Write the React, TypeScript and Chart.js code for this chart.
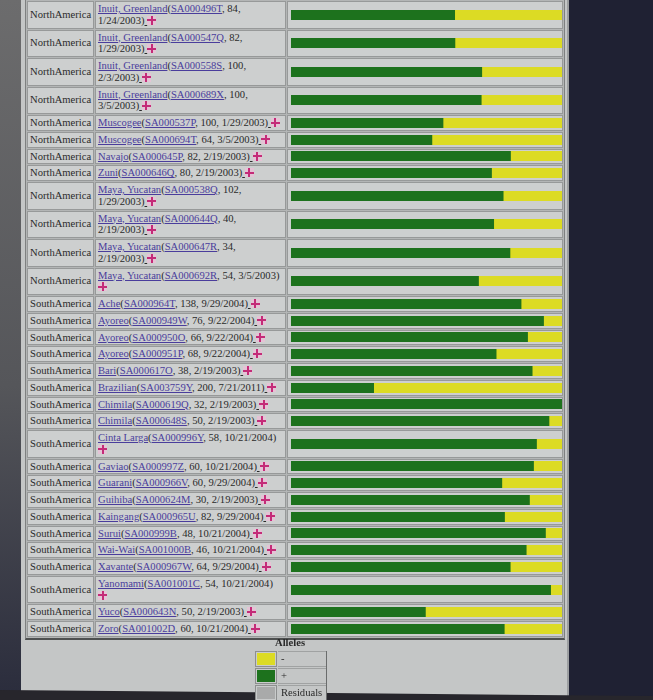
import React, { useEffect, useRef } from 'react';
import { Chart, registerables } from 'chart.js';

Chart.register(...registerables);

// ---------- data ----------
const REGIONS = [
  'NorthAmerica', 'NorthAmerica', 'NorthAmerica', 'NorthAmerica',
  'NorthAmerica', 'NorthAmerica', 'NorthAmerica', 'NorthAmerica',
  'NorthAmerica', 'NorthAmerica', 'NorthAmerica', 'NorthAmerica',
  'SouthAmerica', 'SouthAmerica', 'SouthAmerica', 'SouthAmerica',
  'SouthAmerica', 'SouthAmerica', 'SouthAmerica', 'SouthAmerica',
  'SouthAmerica', 'SouthAmerica', 'SouthAmerica', 'SouthAmerica',
  'SouthAmerica', 'SouthAmerica', 'SouthAmerica', 'SouthAmerica',
  'SouthAmerica', 'SouthAmerica', 'SouthAmerica',
];

const POPULATIONS = [
  'Inuit, Greenland', 'Inuit, Greenland', 'Inuit, Greenland', 'Inuit, Greenland',
  'Muscogee', 'Muscogee', 'Navajo', 'Zuni',
  'Maya, Yucatan', 'Maya, Yucatan', 'Maya, Yucatan', 'Maya, Yucatan',
  'Ache', 'Ayoreo', 'Ayoreo', 'Ayoreo', 'Bari', 'Brazilian', 'Chimila', 'Chimila',
  'Cinta Larga', 'Gaviao', 'Guarani', 'Guihiba', 'Kaingang', 'Surui', 'Wai-Wai',
  'Xavante', 'Yanomami', 'Yuco', 'Zoro',
];

const SAMPLE_IDS = [
  'SA000496T', 'SA000547Q', 'SA000558S', 'SA000689X',
  'SA000537P', 'SA000694T', 'SA000645P', 'SA000646Q',
  'SA000538Q', 'SA000644Q', 'SA000647R', 'SA000692R',
  'SA000964T', 'SA000949W', 'SA000950O', 'SA000951P', 'SA000617O', 'SA003759Y',
  'SA000619Q', 'SA000648S', 'SA000996Y', 'SA000997Z', 'SA000966V', 'SA000624M',
  'SA000965U', 'SA000999B', 'SA001000B', 'SA000967W', 'SA001001C', 'SA000643N',
  'SA001002D',
];

const SAMPLE_SIZES = [
  84, 82, 100, 100, 100, 64, 82, 80, 102, 40, 34, 54,
  138, 76, 66, 68, 38, 200, 32, 50, 58, 60, 60, 30, 82, 48, 46, 64, 54, 50, 60,
];

const DATES = [
  '1/24/2003', '1/29/2003', '2/3/2003', '3/5/2003',
  '1/29/2003', '3/5/2003', '2/19/2003', '2/19/2003',
  '1/29/2003', '2/19/2003', '2/19/2003', '3/5/2003',
  '9/29/2004', '9/22/2004', '9/22/2004', '9/22/2004', '2/19/2003', '7/21/2011',
  '2/19/2003', '2/19/2003', '10/21/2004', '10/21/2004', '9/29/2004', '2/19/2003',
  '9/29/2004', '10/21/2004', '10/21/2004', '9/29/2004', '10/21/2004', '2/19/2003',
  '10/21/2004',
];

// allele frequencies (%) per sample
const PLUS_PCT = [
  60.4, 60.5, 70.4, 70.2, 56.1, 52.0, 81.0, 74.0, 78.3, 74.8, 80.8, 69.2,
  84.9, 93.2, 87.3, 75.7, 89.0, 30.5, 100.0, 95.2, 90.6, 89.5, 77.8, 88.0,
  78.8, 93.9, 86.8, 80.9, 95.8, 49.6, 78.7,
];
const MINUS_PCT = [
  39.6, 39.5, 29.6, 29.8, 43.9, 48.0, 19.0, 26.0, 21.7, 25.2, 19.2, 30.8,
  15.1, 6.8, 12.7, 24.3, 11.0, 69.5, 0.0, 4.8, 9.4, 10.5, 22.2, 12.0,
  21.2, 6.1, 13.2, 19.1, 4.2, 50.4, 21.3,
];
const RESIDUAL_PCT = [
  0, 0, 0, 0, 0, 0, 0, 0, 0, 0, 0, 0, 0, 0, 0, 0,
  0, 0, 0, 0, 0, 0, 0, 0, 0, 0, 0, 0, 0, 0, 0,
];

const LEGEND_TITLE = 'Alleles';
const LEGEND_LABELS = ['-', '+', 'Residuals'];

// ---------- layout / style (not data) ----------
const GREEN = '#1d721d';
const YELLOW = '#dcdb24';
const GREY = '#a9aaaa';
const LEGEND_COLORS = [YELLOW, GREEN, GREY];
// where the sample text wraps in the reference: after the size, before the icon, or not at all
const WRAP = [
  'n', 'n', 'n', 'n', '', '', '', '', 'n', 'n', 'n', 'icon',
  '', '', '', '', '', '', '', '', 'icon', '', '', '', '', '', '', '', 'icon', '', '',
];

const FONT = '"Liberation Serif", "Times New Roman", serif';
const CELL_BG = '#cdcfcf';
const CELL_BORDER = '#979999';
const LINK = '#4a3d9c';
const TEXT = '#2a2a2a';

function BarChart({ index }: { index: number }) {
  const ref = useRef<HTMLCanvasElement>(null);
  useEffect(() => {
    const chart = new Chart(ref.current as HTMLCanvasElement, {
      type: 'bar',
      data: {
        labels: [POPULATIONS[index]],
        datasets: [
          { label: LEGEND_LABELS[1], data: [PLUS_PCT[index]], backgroundColor: GREEN },
          { label: LEGEND_LABELS[0], data: [MINUS_PCT[index]], backgroundColor: YELLOW },
          { label: LEGEND_LABELS[2], data: [RESIDUAL_PCT[index]], backgroundColor: GREY },
        ],
      },
      options: {
        indexAxis: 'y',
        responsive: false,
        animation: false,
        devicePixelRatio: 1,
        datasets: { bar: { barPercentage: 1, categoryPercentage: 1, borderWidth: 0 } },
        layout: { padding: 0 },
        scales: {
          x: { stacked: true, min: 0, max: 100, display: false },
          y: { stacked: true, display: false },
        },
        plugins: { legend: { display: false }, tooltip: { enabled: false } },
      },
    });
    return () => chart.destroy();
  }, [index]);
  return (
    <canvas
      ref={ref}
      width={271}
      height={10}
      style={{ display: 'block', width: 271, height: 10 }}
    />
  );
}

function PlusIcon() {
  return (
    <span
      style={{
        display: 'inline-block',
        position: 'relative',
        width: 9,
        height: 9,
        background: '#e4c3d5',
        verticalAlign: '-1px',
      }}
    >
      <span style={{ position: 'absolute', left: 0, top: 3.5, width: 9, height: 2, background: '#c42b78' }} />
      <span style={{ position: 'absolute', left: 3.5, top: 0, width: 2, height: 9, background: '#c42b78' }} />
    </span>
  );
}

const linkStyle: React.CSSProperties = { color: LINK, textDecoration: 'underline' };

function SampleText({ i }: { i: number }) {
  const wrap = WRAP[i];
  return (
    <>
      <a style={linkStyle}>{POPULATIONS[i]}</a>(<a style={linkStyle}>{SAMPLE_IDS[i]}</a>, {SAMPLE_SIZES[i]},
      {wrap === 'n' ? <br /> : ' '}
      {DATES[i]})
      {wrap === 'icon' ? (
        <br />
      ) : (
        <a style={{ ...linkStyle, color: TEXT }}>{'\u00a0'}</a>
      )}
      <PlusIcon />
    </>
  );
}

const cellBase: React.CSSProperties = {
  boxSizing: 'border-box',
  border: `1px solid ${CELL_BORDER}`,
  background: CELL_BG,
};

export default function App() {
  return (
    <div
      style={{
        position: 'fixed',
        left: 0,
        top: 0,
        width: 653,
        height: 700,
        overflow: 'hidden',
        background: '#1f2133',
        fontFamily: FONT,
      }}
    >
      {/* left dark strip */}
      <div
        style={{
          position: 'absolute',
          left: 0,
          top: 0,
          width: 21,
          height: 700,
          background: 'linear-gradient(#6c6c6d, #55565a 55%, #2a2c3c)',
        }}
      />
      {/* screen */}
      <div
        style={{
          position: 'absolute',
          left: 21,
          top: 0,
          width: 546,
          height: 700,
          background: '#c4c6c6',
          borderRight: '2px solid #9c9ea0',
        }}
      />
      {/* bottom bezel, slightly tilted like the photo */}
      <div
        style={{
          position: 'absolute',
          left: 0,
          top: 688,
          width: 653,
          height: 12,
          background: '#27262c',
          clipPath: 'polygon(0 2px, 100% 8px, 100% 100%, 0 100%)',
        }}
      />
      {/* table */}
      <div
        style={{
          position: 'absolute',
          left: 25,
          top: -1,
          border: '1px solid #7e8080',
          borderBottom: '2px solid #4e5050',
          padding: 1,
          background: '#b3b5b5',
          fontSize: 10.6,
          lineHeight: '11.75px',
          color: TEXT,
        }}
      >
        {REGIONS.map((region, i) => (
          <div
            key={i}
            style={{ display: 'flex', gap: 1, marginBottom: i === REGIONS.length - 1 ? 0 : 1 }}
          >
            <div
              style={{
                ...cellBase,
                width: 67,
                padding: '1px 2px',
                display: 'flex',
                alignItems: 'center',
                whiteSpace: 'nowrap',
              }}
            >
              {region}
            </div>
            <div style={{ ...cellBase, width: 191, padding: '1px 2px', whiteSpace: 'nowrap' }}>
              <SampleText i={i} />
            </div>
            <div
              style={{
                ...cellBase,
                width: 276,
                paddingLeft: 3,
                display: 'flex',
                alignItems: 'center',
              }}
            >
              <BarChart index={i} />
            </div>
          </div>
        ))}
      </div>
      {/* legend */}
      <div
        style={{
          position: 'absolute',
          left: 255,
          top: 637,
          fontSize: 10.6,
          lineHeight: '12px',
          color: TEXT,
        }}
      >
        <div style={{ fontWeight: 'bold', paddingLeft: 20, marginBottom: 2 }}>{LEGEND_TITLE}</div>
        <div style={{ borderRight: '1px solid #6a6c6c', width: 71, background: '#c4c6c6' }}>
          {LEGEND_LABELS.map((lab, k) => (
            <div key={k} style={{ display: 'flex', gap: 1, marginBottom: 1 }}>
              <div
                style={{
                  width: 22,
                  height: 16,
                  boxSizing: 'border-box',
                  border: '1px solid #8d8f8f',
                  padding: 1,
                  background: '#c9cbcb',
                }}
              >
                <div style={{ width: '100%', height: '100%', background: LEGEND_COLORS[k] }} />
              </div>
              <div
                style={{
                  width: 48,
                  height: 16,
                  boxSizing: 'border-box',
                  borderTop: '1px solid #a0a2a2',
                  borderBottom: '1px solid #a0a2a2',
                  paddingLeft: 3,
                  paddingTop: 1,
                }}
              >
                {lab}
              </div>
            </div>
          ))}
        </div>
      </div>
    </div>
  );
}
